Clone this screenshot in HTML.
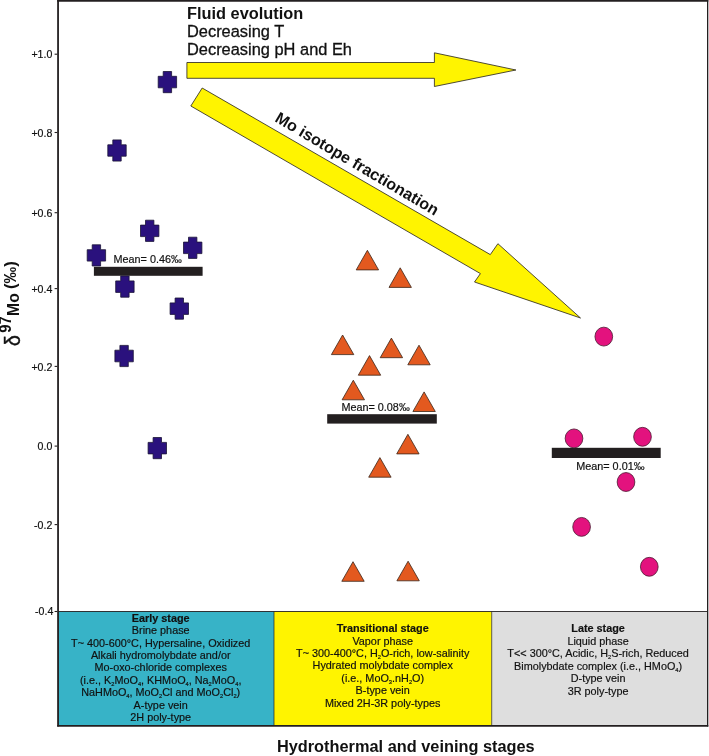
<!DOCTYPE html>
<html><head><meta charset="utf-8"><title>Mo isotope fractionation</title>
<style>
html,body{margin:0;padding:0;background:#fff;}
svg{display:block;}
text{font-family:"Liberation Sans",Arial,Helvetica,sans-serif;fill:#111;}
.b{font-weight:bold;}
.s{font-size:10.83px;stroke:#111;stroke-width:0.18px;}
.t{font-size:10.6px;stroke:#111;stroke-width:0.18px;}
.sub{font-size:5.7px;}
</style></head><body>
<svg width="709" height="756" viewBox="0 0 709 756">
<rect x="0" y="0" width="709" height="756" fill="#ffffff"/>

<rect x="58" y="611.5" width="216" height="114.3" fill="#37b3c7"/>
<rect x="274" y="611.5" width="217.7" height="114.3" fill="#fff400"/>
<rect x="491.7" y="611.5" width="216.3" height="114.3" fill="#dedede"/>
<g stroke="#231f20" fill="none">
<line x1="58" y1="611.5" x2="708" y2="611.5" stroke-width="0.9"/>
<line x1="274" y1="611.5" x2="274" y2="725.5" stroke-width="0.7"/>
<line x1="491.7" y1="611.5" x2="491.7" y2="725.5" stroke-width="0.7"/>
<line x1="57.2" y1="725.95" x2="708.3" y2="725.95" stroke-width="1.7"/>
<line x1="57.2" y1="0.85" x2="708.3" y2="0.85" stroke-width="1.7"/>
<line x1="58.05" y1="0" x2="58.05" y2="726.5" stroke-width="1.8"/>
<line x1="707.65" y1="0" x2="707.65" y2="726.5" stroke-width="1.3"/>
<line x1="54.6" y1="54.2" x2="57.2" y2="54.2" stroke-width="1.1"/>
<line x1="54.6" y1="132.5" x2="57.2" y2="132.5" stroke-width="1.1"/>
<line x1="54.6" y1="212.7" x2="57.2" y2="212.7" stroke-width="1.1"/>
<line x1="54.6" y1="288.6" x2="57.2" y2="288.6" stroke-width="1.1"/>
<line x1="54.6" y1="366.4" x2="57.2" y2="366.4" stroke-width="1.1"/>
<line x1="54.6" y1="446.1" x2="57.2" y2="446.1" stroke-width="1.1"/>
<line x1="54.6" y1="524.6" x2="57.2" y2="524.6" stroke-width="1.1"/>
<line x1="54.6" y1="611.5" x2="57.2" y2="611.5" stroke-width="1.1"/>
</g>
<text class="t" x="52.3" y="58.3" text-anchor="end">+1.0</text>
<text class="t" x="52.3" y="136.6" text-anchor="end">+0.8</text>
<text class="t" x="52.3" y="216.8" text-anchor="end">+0.6</text>
<text class="t" x="52.3" y="292.7" text-anchor="end">+0.4</text>
<text class="t" x="52.3" y="370.5" text-anchor="end">+0.2</text>
<text class="t" x="52.3" y="450.2" text-anchor="end">0.0</text>
<text class="t" x="52.3" y="528.7" text-anchor="end">-0.2</text>
<text class="t" x="53.3" y="614.9" text-anchor="end">-0.4</text>
<polygon points="186.9,62.5 434.4,62.5 434.4,52.8 515.9,70 434.4,86.5 434.4,78.3 186.9,78.3" fill="#fff400" stroke="#231f20" stroke-width="0.8" stroke-linejoin="miter"/>
<polygon points="202.2,88 490.3,254.6 497.9,243.7 580.5,318 474.5,282 480.4,273.6 190.8,106" fill="#fff400" stroke="#231f20" stroke-width="0.8" stroke-linejoin="miter"/>
<text class="b" x="187" y="18.6" font-size="16.3" textLength="116.2" lengthAdjust="spacingAndGlyphs">Fluid evolution</text>
<text x="187" y="37" font-size="16.3" textLength="97.2" stroke="#111" stroke-width="0.3" lengthAdjust="spacingAndGlyphs">Decreasing T</text>
<text x="187" y="55" font-size="16.3" textLength="165" stroke="#111" stroke-width="0.3" lengthAdjust="spacingAndGlyphs">Decreasing pH and Eh</text>
<text class="b" transform="translate(274,121) rotate(30.6)" x="0" y="0" font-size="16.1" textLength="186.8" lengthAdjust="spacingAndGlyphs">Mo isotope fractionation</text>
<rect x="93.9" y="266.8" width="108.7" height="9" fill="#231f20"/>
<rect x="327.2" y="414.2" width="109.6" height="9.4" fill="#231f20"/>
<rect x="551.8" y="447.8" width="108.9" height="10.2" fill="#231f20"/>
<text class="s" x="113.5" y="263">Mean= 0.46‰</text>
<text class="s" x="341.4" y="411">Mean= 0.08‰</text>
<text class="s" x="576.2" y="469.8">Mean= 0.01‰</text>
<polygon points="163.2,71.5 171.6,71.5 171.6,76.3 176.6,76.3 176.6,87.8 171.6,87.8 171.6,92.7 163.2,92.7 163.2,87.8 158.2,87.8 158.2,76.3 163.2,76.3" fill="#2a117d" stroke="#1a1436" stroke-width="0.8"/>
<polygon points="112.8,139.9 121.2,139.9 121.2,144.8 126.2,144.8 126.2,156.2 121.2,156.2 121.2,161.1 112.8,161.1 112.8,156.2 107.8,156.2 107.8,144.8 112.8,144.8" fill="#2a117d" stroke="#1a1436" stroke-width="0.8"/>
<polygon points="145.5,220.2 153.9,220.2 153.9,225.1 158.9,225.1 158.9,236.6 153.9,236.6 153.9,241.4 145.5,241.4 145.5,236.6 140.5,236.6 140.5,225.1 145.5,225.1" fill="#2a117d" stroke="#1a1436" stroke-width="0.8"/>
<polygon points="92.2,244.8 100.6,244.8 100.6,249.7 105.6,249.7 105.6,261.1 100.6,261.1 100.6,266.0 92.2,266.0 92.2,261.1 87.2,261.1 87.2,249.7 92.2,249.7" fill="#2a117d" stroke="#1a1436" stroke-width="0.8"/>
<polygon points="188.5,237.2 196.9,237.2 196.9,242.1 201.9,242.1 201.9,253.6 196.9,253.6 196.9,258.4 188.5,258.4 188.5,253.6 183.5,253.6 183.5,242.1 188.5,242.1" fill="#2a117d" stroke="#1a1436" stroke-width="0.8"/>
<polygon points="120.7,276.0 129.1,276.0 129.1,280.9 134.1,280.9 134.1,292.4 129.1,292.4 129.1,297.2 120.7,297.2 120.7,292.4 115.7,292.4 115.7,280.9 120.7,280.9" fill="#2a117d" stroke="#1a1436" stroke-width="0.8"/>
<polygon points="175.1,298.0 183.5,298.0 183.5,302.9 188.5,302.9 188.5,314.4 183.5,314.4 183.5,319.2 175.1,319.2 175.1,314.4 170.1,314.4 170.1,302.9 175.1,302.9" fill="#2a117d" stroke="#1a1436" stroke-width="0.8"/>
<polygon points="119.9,345.4 128.3,345.4 128.3,350.2 133.3,350.2 133.3,361.8 128.3,361.8 128.3,366.6 119.9,366.6 119.9,361.8 114.9,361.8 114.9,350.2 119.9,350.2" fill="#2a117d" stroke="#1a1436" stroke-width="0.8"/>
<polygon points="153.1,437.5 161.5,437.5 161.5,442.4 166.5,442.4 166.5,453.9 161.5,453.9 161.5,458.7 153.1,458.7 153.1,453.9 148.1,453.9 148.1,442.4 153.1,442.4" fill="#2a117d" stroke="#1a1436" stroke-width="0.8"/>
<polygon points="367.4,250.3 378.6,269.9 356.2,269.9" fill="#e3591f" stroke="#3a2418" stroke-width="0.8"/>
<polygon points="400.2,267.8 411.4,287.4 389.0,287.4" fill="#e3591f" stroke="#3a2418" stroke-width="0.8"/>
<polygon points="342.6,335.0 353.8,354.6 331.4,354.6" fill="#e3591f" stroke="#3a2418" stroke-width="0.8"/>
<polygon points="391.4,338.1 402.6,357.7 380.2,357.7" fill="#e3591f" stroke="#3a2418" stroke-width="0.8"/>
<polygon points="419.0,345.2 430.2,364.8 407.8,364.8" fill="#e3591f" stroke="#3a2418" stroke-width="0.8"/>
<polygon points="369.5,355.6 380.7,375.2 358.3,375.2" fill="#e3591f" stroke="#3a2418" stroke-width="0.8"/>
<polygon points="353.3,380.2 364.5,399.8 342.1,399.8" fill="#e3591f" stroke="#3a2418" stroke-width="0.8"/>
<polygon points="424.1,391.9 435.3,411.5 412.9,411.5" fill="#e3591f" stroke="#3a2418" stroke-width="0.8"/>
<polygon points="407.9,434.3 419.1,453.9 396.7,453.9" fill="#e3591f" stroke="#3a2418" stroke-width="0.8"/>
<polygon points="379.9,457.6 391.1,477.2 368.7,477.2" fill="#e3591f" stroke="#3a2418" stroke-width="0.8"/>
<polygon points="353.0,561.7 364.2,581.3 341.8,581.3" fill="#e3591f" stroke="#3a2418" stroke-width="0.8"/>
<polygon points="408.1,561.2 419.3,580.8 396.9,580.8" fill="#e3591f" stroke="#3a2418" stroke-width="0.8"/>
<ellipse cx="603.8" cy="336.6" rx="8.85" ry="9.45" fill="#e3127e" stroke="#4a1830" stroke-width="0.8"/>
<ellipse cx="574.0" cy="438.4" rx="8.85" ry="9.45" fill="#e3127e" stroke="#4a1830" stroke-width="0.8"/>
<ellipse cx="642.5" cy="436.8" rx="8.85" ry="9.45" fill="#e3127e" stroke="#4a1830" stroke-width="0.8"/>
<ellipse cx="626.0" cy="482.0" rx="8.85" ry="9.45" fill="#e3127e" stroke="#4a1830" stroke-width="0.8"/>
<ellipse cx="581.6" cy="526.9" rx="8.85" ry="9.45" fill="#e3127e" stroke="#4a1830" stroke-width="0.8"/>
<ellipse cx="649.3" cy="566.8" rx="8.85" ry="9.45" fill="#e3127e" stroke="#4a1830" stroke-width="0.8"/>
<g transform="translate(19.2,346) rotate(-90)">
<text x="0" y="0.6" font-size="21.5" textLength="10.8" lengthAdjust="spacingAndGlyphs" stroke="#111" stroke-width="0.45">δ</text>
<text class="b" x="13.2" y="-8.4" font-size="16" textLength="16.4" lengthAdjust="spacingAndGlyphs">97</text>
<text class="b" x="30.1" y="-0.4" font-size="16.2" textLength="22.7" lengthAdjust="spacingAndGlyphs">Mo</text>
<text class="b" x="57.1" y="-3.6" font-size="17.2" textLength="27.65" lengthAdjust="spacingAndGlyphs">(‰)</text>
</g>
<text class="s b" x="160.7" y="621.9" text-anchor="middle">Early stage</text>
<text class="s" x="160.7" y="634.2" text-anchor="middle">Brine phase</text>
<text class="s" x="160.7" y="646.5" text-anchor="middle">T~ 400-600°C, Hypersaline, Oxidized</text>
<text class="s" x="160.7" y="658.8" text-anchor="middle">Alkali hydromolybdate and/or</text>
<text class="s" x="160.7" y="671.1" text-anchor="middle">Mo-oxo-chloride complexes</text>
<text class="s" x="160.7" y="683.5" text-anchor="middle">(i.e., K<tspan class="sub" dy="2.2">2</tspan><tspan dy="-2.2">MoO</tspan><tspan class="sub" dy="2.2">4</tspan><tspan dy="-2.2">, KHMoO</tspan><tspan class="sub" dy="2.2">4</tspan><tspan dy="-2.2">, Na</tspan><tspan class="sub" dy="2.2">2</tspan><tspan dy="-2.2">MoO</tspan><tspan class="sub" dy="2.2">4</tspan><tspan dy="-2.2">,</tspan></text>
<text class="s" x="160.7" y="696.1" text-anchor="middle">NaHMoO<tspan class="sub" dy="2.2">4</tspan><tspan dy="-2.2">, MoO</tspan><tspan class="sub" dy="2.2">2</tspan><tspan dy="-2.2">Cl and MoO</tspan><tspan class="sub" dy="2.2">2</tspan><tspan dy="-2.2">Cl</tspan><tspan class="sub" dy="2.2">2</tspan><tspan dy="-2.2">)</tspan></text>
<text class="s" x="160.7" y="708.8" text-anchor="middle">A-type vein</text>
<text class="s" x="160.7" y="721.1" text-anchor="middle">2H poly-type</text>
<text class="s b" x="382.7" y="632.2" text-anchor="middle">Transitional stage</text>
<text class="s" x="382.7" y="644.6" text-anchor="middle">Vapor phase</text>
<text class="s" x="382.7" y="656.8" text-anchor="middle">T~ 300-400°C, H<tspan class="sub" dy="2.2">2</tspan><tspan dy="-2.2">O-rich, low-salinity</tspan></text>
<text class="s" x="382.7" y="669.2" text-anchor="middle">Hydrated molybdate complex</text>
<text class="s" x="382.7" y="681.8" text-anchor="middle">(i.e., MoO<tspan class="sub" dy="2.2">3</tspan><tspan dy="-2.2">.nH</tspan><tspan class="sub" dy="2.2">2</tspan><tspan dy="-2.2">O)</tspan></text>
<text class="s" x="382.7" y="694.1" text-anchor="middle">B-type vein</text>
<text class="s" x="382.7" y="706.8" text-anchor="middle">Mixed 2H-3R poly-types</text>
<text class="s b" x="598.1" y="632.2" text-anchor="middle">Late stage</text>
<text class="s" x="598.1" y="644.6" text-anchor="middle">Liquid phase</text>
<text class="s" x="598.1" y="656.8" text-anchor="middle">T&lt;&lt; 300°C, Acidic, H<tspan class="sub" dy="2.2">2</tspan><tspan dy="-2.2">S-rich, Reduced</tspan></text>
<text class="s" x="598.1" y="669.6" text-anchor="middle">Bimolybdate complex (i.e., HMoO<tspan class="sub" dy="2.2">4</tspan><tspan dy="-2.2">)</tspan></text>
<text class="s" x="598.1" y="682.4" text-anchor="middle">D-type vein</text>
<text class="s" x="598.1" y="694.9" text-anchor="middle">3R poly-type</text>
<text class="b" x="276.9" y="752.2" font-size="16.3" textLength="257.8" lengthAdjust="spacingAndGlyphs">Hydrothermal and veining stages</text>
</svg></body></html>
